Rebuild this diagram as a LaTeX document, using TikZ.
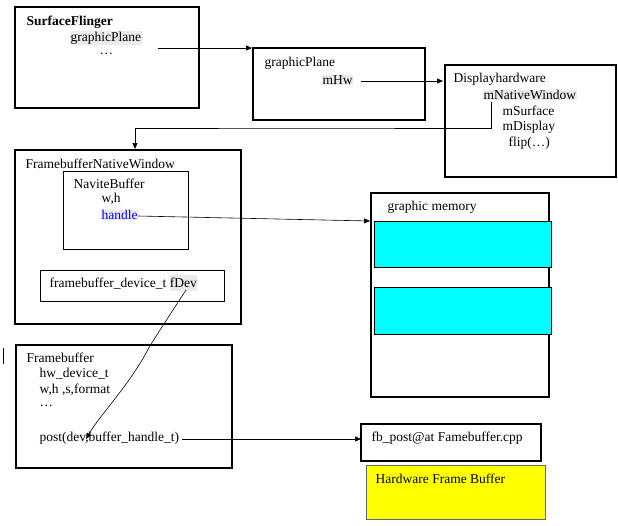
\documentclass[tikz,border=0pt]{standalone}
\usepackage{fontspec}
\setmainfont{Liberation Serif}
\usetikzlibrary{arrows.meta}
\definecolor{cy}{RGB}{0,255,255}
\definecolor{ye}{RGB}{255,255,0}
\begin{document}
\begin{tikzpicture}[x=1pt,y=-1pt,
  box/.style={draw,line width=2.2pt},
  thin/.style={draw,line width=0.6pt},
  txt/.style={anchor=west,inner sep=0.5pt,font=\fontsize{13.5}{15}\selectfont},
  hl/.style={txt,fill=black!8},
  con/.style={line width=0.6pt,-{Triangle[length=6pt,width=5pt]}}]
\useasboundingbox (0,0) rectangle (618,525);
% boxes
\draw[box] (15,7) rectangle (199,108);
\draw[box] (253,48) rectangle (425,120);
\draw[box] (445,65) rectangle (616,177);
\draw[box] (15,150) rectangle (241,324);
\draw[thin] (63,171) rectangle (188,249);
\draw[thin] (40,270) rectangle (224,301);
\draw[box,line width=1.6pt] (371,193) rectangle (549,397);
\draw[thin,fill=cy] (374,221) rectangle (551,267);
\draw[thin,fill=cy] (374,287) rectangle (551,334);
\draw[box] (16,345) rectangle (232,468);
\draw[box] (361,424) rectangle (541,461);
\draw[thin,draw=black!60,fill=ye] (366,465) rectangle (545,519);
\draw[line width=0.8pt] (3,348) -- (3,364);
% texts
\node[txt,font=\fontsize{13.5}{15}\selectfont\bfseries] (sf) at (26,22) {SurfaceFlinger};
\node[hl] (sfgp) at (70,38) {graphicPlane};
\node[txt] (sfdots) at (99,54) {\dots};
\node[txt] (gp) at (264,63) {graphicPlane};
\node[hl] (mhw) at (322,80) {mHw};
\node[txt] (dh) at (453,79) {Displayhardware};
\node[hl] (mnw) at (483,95) {mNativeWindow};
\node[txt] (msf) at (502,111) {mSurface};
\node[txt] (mdp) at (502,127) {mDisplay};
\node[txt] (flip) at (508,143) {flip(\dots)};
\node[txt] (fnw) at (25,164) {FramebufferNativeWindow};
\node[txt] (nb) at (73,184) {NaviteBuffer};
\node[txt] (wh) at (101,199) {w,h};
\node[hl,text=blue] (handle) at (101,215) {handle};
\node[txt] (gm) at (387,207) {graphic memory};
\node[txt] (fdt) at (49,283) {framebuffer\_device\_t \colorbox{black!8}{\kern-3pt fDev\kern-3pt}};
\coordinate (fdev) at (186,290);
\node[txt] (fb) at (26,358) {Framebuffer};
\node[txt] (hwd) at (39,374) {hw\_device\_t};
\node[txt] (whs) at (39,390) {w,h ,s,format};
\node[txt] (fbdots) at (39,406) {\dots};
\node[txt] (post) at (39,438) {post(dev,buffer\_handle\_t)};
\node[txt] (fbpost) at (371,438) {fb\_post@at Famebuffer.cpp};
\node[txt] (hfb) at (375,479) {Hardware Frame Buffer};
% connectors
\coordinate (a1) at (158,48); \coordinate (a2) at (252,48);
\draw[con,line width=1pt] (a1) -- (a2);
\coordinate (b1) at (361,81); \coordinate (b2) at (443,81);
\draw[con] (b1) -- (b2);
\coordinate (c1) at (491,102); \coordinate (c2) at (135,149);
\draw[con] (c1) |- (300,128) -| (c2);
\coordinate (d1) at (138,216); \coordinate (d2) at (370,221);
\draw[con] (d1) -- (d2);
\coordinate (e2) at (86,439);
\draw[con] (fdev) .. controls (160,330) and (150,345) .. (145,355) .. controls (125,390) and (100,415) .. (e2);
\coordinate (f1) at (182,439); \coordinate (f2) at (361,439);
\draw[con] (f1) -- (f2);
\end{tikzpicture}
\end{document}
